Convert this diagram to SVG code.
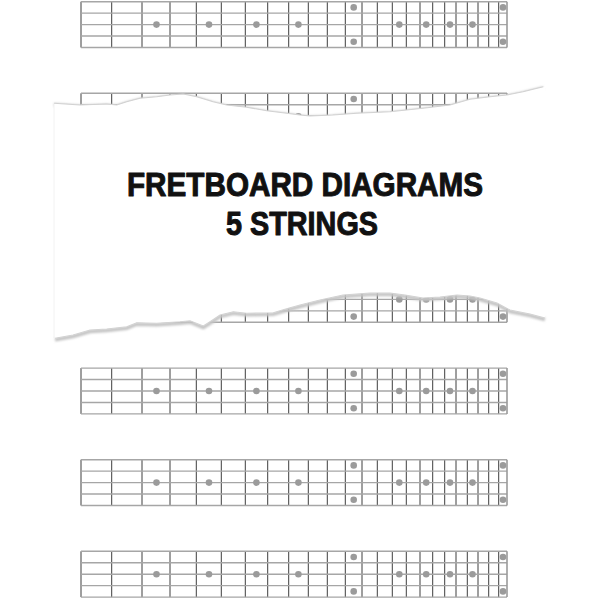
<svg xmlns="http://www.w3.org/2000/svg" xmlns:xlink="http://www.w3.org/1999/xlink" width="600" height="600" viewBox="0 0 600 600">
<style>
.str{stroke:#a6a6a6;stroke-width:1.4;fill:none}
.fret{stroke:#3e3e3e;stroke-width:1;fill:none}
.end{stroke:#9a9a9a;stroke-width:1.6;fill:none}
.dot{fill:#9b9b9b}
.title{font-family:"Liberation Sans",Arial,sans-serif;font-weight:bold;font-size:33px;fill:#111;stroke:#111;stroke-width:1;stroke-linejoin:round;text-anchor:middle}
.paper{fill:#ffffff}
.edge{fill:none;stroke:#d2d2d2;stroke-width:1.1}
.shade{fill:none;stroke:#c4c4c4;stroke-width:3.5;filter:url(#blur)}
</style>
<defs>
<g id="board">
<path class="fret" d="M81 0V45.8M111.7 0V45.8M142 0V45.8M170 0V45.8M196.3 0V45.8M221.3 0V45.8M245.3 0V45.8M267.7 0V45.8M288.7 0V45.8M308.3 0V45.8M327.3 0V45.8M345.3 0V45.8M362 0V45.8M377.3 0V45.8M392.3 0V45.8M406.3 0V45.8M420 0V45.8M432.7 0V45.8M444.7 0V45.8M456 0V45.8M467.3 0V45.8M478 0V45.8M488.7 0V45.8M498.7 0V45.8"/>
<path class="str" d="M81 0H507M81 11.45H507M81 22.9H507M81 34.35H507M81 45.8H507"/>
<path class="end" d="M507 0V45.8"/>
<circle class="dot" cx="156.5" cy="22.9" r="3.3"/>
<circle class="dot" cx="209" cy="22.9" r="3.3"/>
<circle class="dot" cx="256.4" cy="22.9" r="3.3"/>
<circle class="dot" cx="298.4" cy="22.9" r="3.3"/>
<circle class="dot" cx="353.7" cy="5.7" r="3.3"/>
<circle class="dot" cx="353.7" cy="40.1" r="3.3"/>
<circle class="dot" cx="399.3" cy="22.9" r="3.3"/>
<circle class="dot" cx="426.2" cy="22.9" r="3.3"/>
<circle class="dot" cx="450" cy="22.9" r="3.3"/>
<circle class="dot" cx="472.5" cy="22.9" r="3.3"/>
<circle class="dot" cx="503" cy="5.7" r="3.3"/>
<circle class="dot" cx="503" cy="40.1" r="3.3"/>
</g>
<filter id="blur" x="-5%" y="-50%" width="110%" height="200%">
<feGaussianBlur stdDeviation="1.3"/>
</filter>
</defs>
<rect width="600" height="600" fill="#ffffff"/>
<g id="fretboards">
<use id="board1" xlink:href="#board" transform="translate(0,1.7)"/>
<use id="board2" xlink:href="#board" transform="translate(0,93.3)"/>
<use id="board3" xlink:href="#board" transform="translate(0,184.9)"/>
<use id="board4" xlink:href="#board" transform="translate(0,276.5)"/>
<use id="board5" xlink:href="#board" transform="translate(0,368.1)"/>
<use id="board6" xlink:href="#board" transform="translate(0,459.7)"/>
<use id="board7" xlink:href="#board" transform="translate(0,551.3)"/>
</g>
<g id="torn-paper">
<path class="shade" transform="translate(0,1.5)" d="M54 103.3L80 105L106.7 104L116.7 105L126.7 101.7L140 98.3L156.7 96.7L170 95L183.3 94L196.7 96.7L213 101.7L226.7 105L246.7 107.3L266.7 110.7L286.7 113.3L300 115L310 116L333 115L356.7 113.3L390 111.7L423 108.3L450 105L470 99.3L490 96.7L506.7 95L523 91.7L543.3 86.7"/>
<path class="shade" transform="translate(0,1.5)" d="M545 318L530 314L510 310L497 303L480 298L470 296L457 295L440 297L423 298L405 295L390 293L370 293L343 295L320 300L300 305L288.3 308.3L273.3 312.7L246.7 313.3L233.3 311.7L220 315L210 321.7L203.3 326L190 320.7L180 321.7L156.7 323.3L136.7 322.7L126.7 326.7L106.7 329L90 330L73 335L55 338.3"/>
<path class="paper" d="M54 103.3L80 105L106.7 104L116.7 105L126.7 101.7L140 98.3L156.7 96.7L170 95L183.3 94L196.7 96.7L213 101.7L226.7 105L246.7 107.3L266.7 110.7L286.7 113.3L300 115L310 116L333 115L356.7 113.3L390 111.7L423 108.3L450 105L470 99.3L490 96.7L506.7 95L523 91.7L543.3 86.7L545 87L545 318L530 314L510 310L497 303L480 298L470 296L457 295L440 297L423 298L405 295L390 293L370 293L343 295L320 300L300 305L288.3 308.3L273.3 312.7L246.7 313.3L233.3 311.7L220 315L210 321.7L203.3 326L190 320.7L180 321.7L156.7 323.3L136.7 322.7L126.7 326.7L106.7 329L90 330L73 335L55 338.3Z"/>
<path class="edge" d="M54 103.3L80 105L106.7 104L116.7 105L126.7 101.7L140 98.3L156.7 96.7L170 95L183.3 94L196.7 96.7L213 101.7L226.7 105L246.7 107.3L266.7 110.7L286.7 113.3L300 115L310 116L333 115L356.7 113.3L390 111.7L423 108.3L450 105L470 99.3L490 96.7L506.7 95L523 91.7L543.3 86.7"/>
<path class="edge" d="M545 318L530 314L510 310L497 303L480 298L470 296L457 295L440 297L423 298L405 295L390 293L370 293L343 295L320 300L300 305L288.3 308.3L273.3 312.7L246.7 313.3L233.3 311.7L220 315L210 321.7L203.3 326L190 320.7L180 321.7L156.7 323.3L136.7 322.7L126.7 326.7L106.7 329L90 330L73 335L55 338.3"/>
<path d="M54 104V338" stroke="#f2f2f2" stroke-width="1" fill="none"/>
</g>
<g id="title">
<text class="title" x="305" y="195.5" textLength="356" lengthAdjust="spacingAndGlyphs">FRETBOARD DIAGRAMS</text>
<text class="title" x="302" y="235" textLength="152" lengthAdjust="spacingAndGlyphs">5 STRINGS</text>
</g>
</svg>
